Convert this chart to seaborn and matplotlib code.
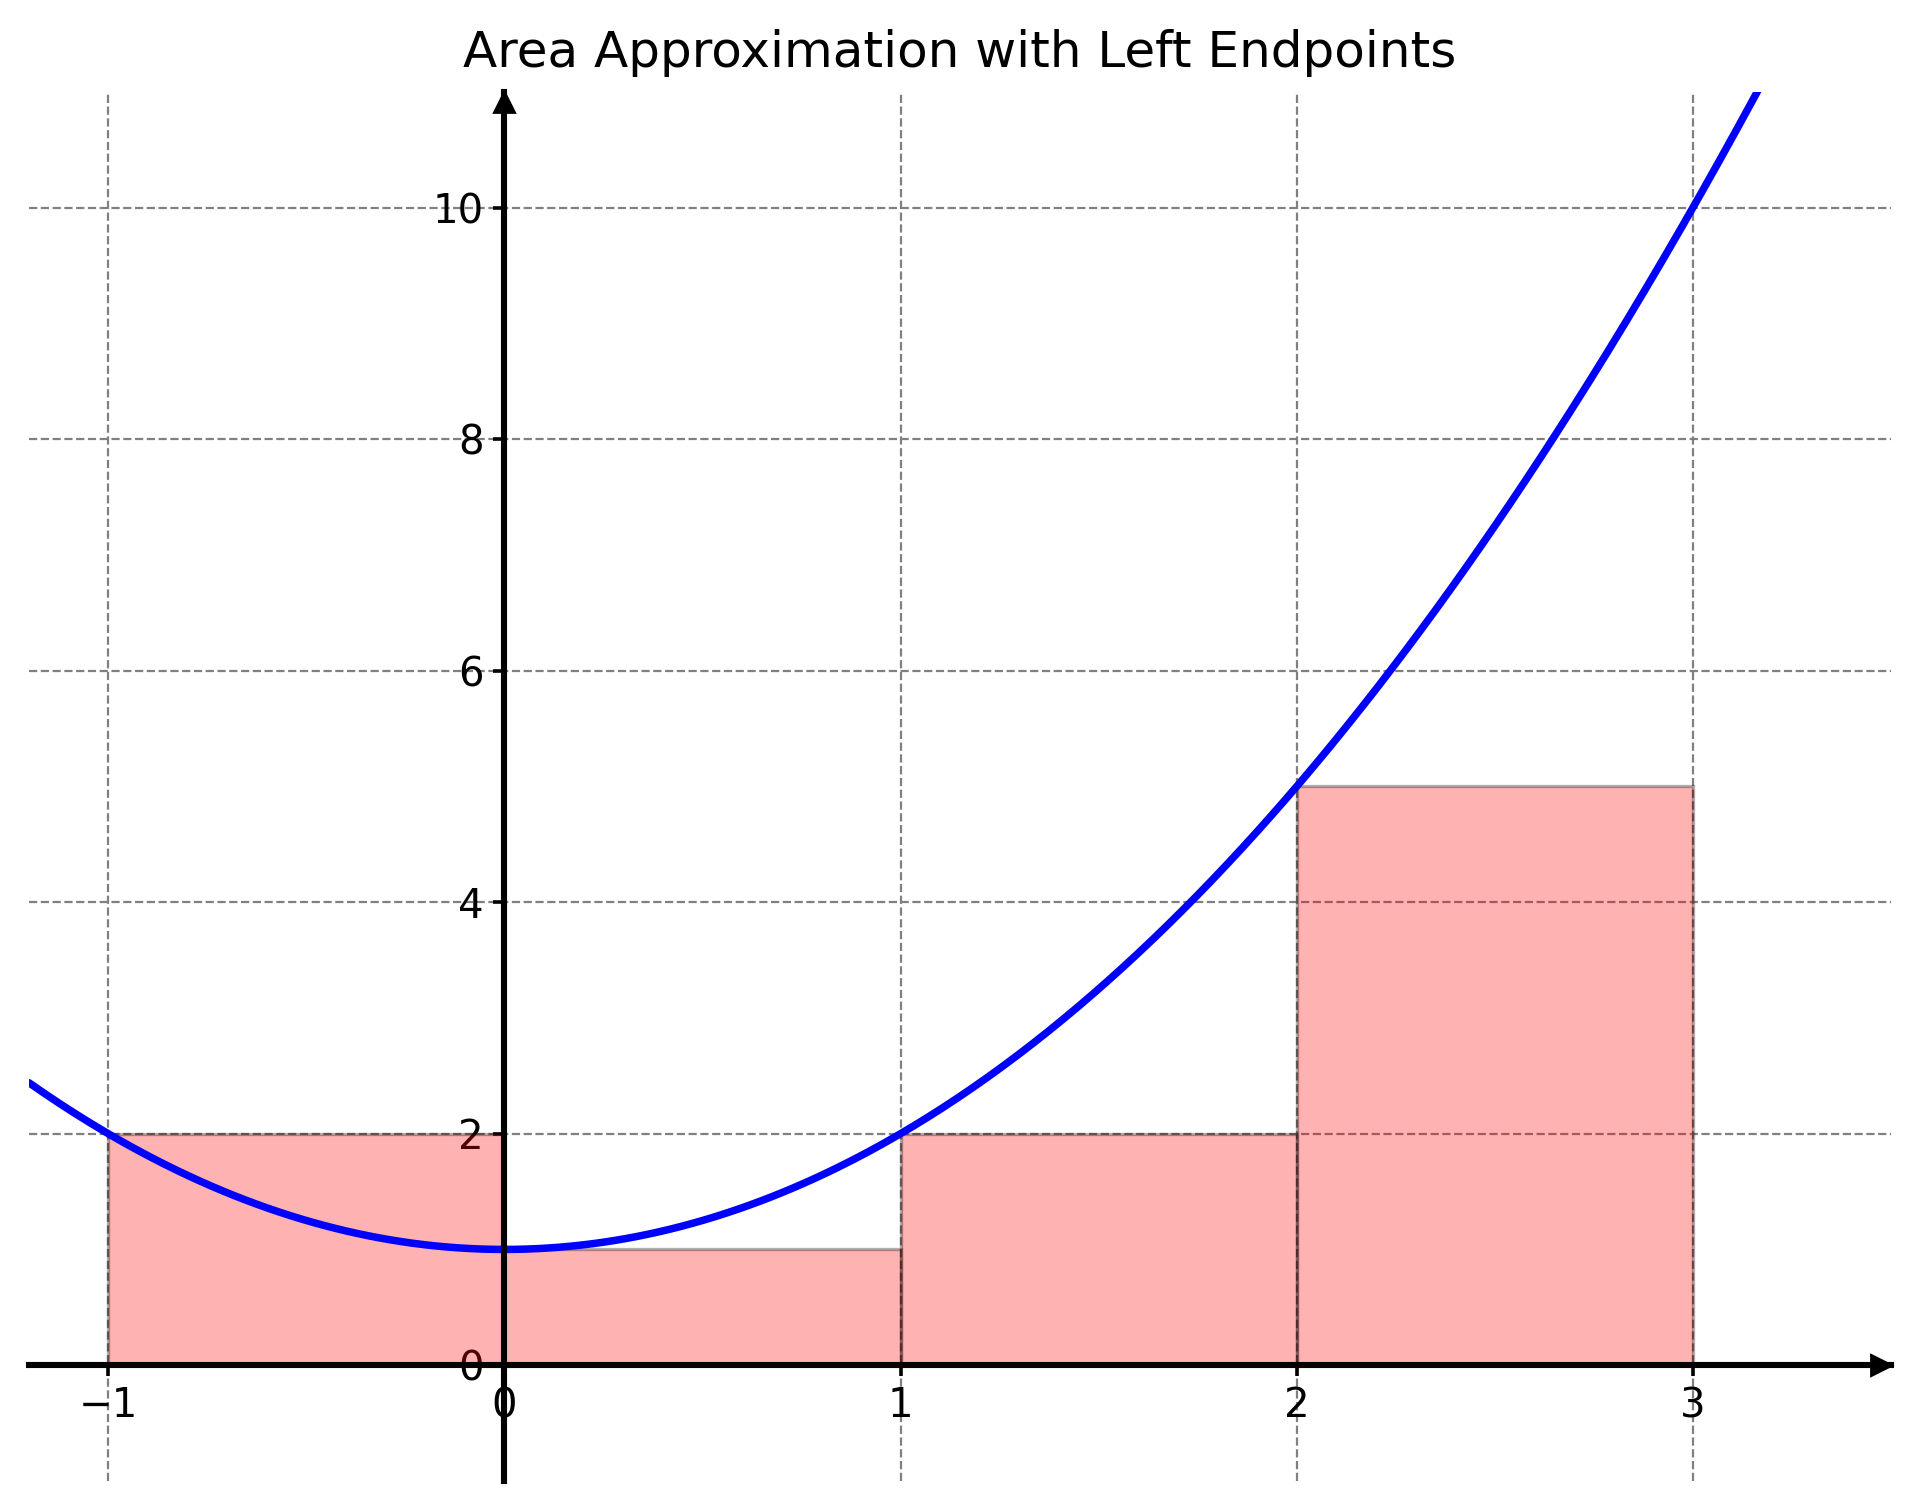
import numpy as np
import pandas as pd
import matplotlib
matplotlib.use("Agg")
import matplotlib.pyplot as plt
import matplotlib.transforms as mtransforms
import seaborn as sns

# f(x) = x^2 + 1 on [-1, 3], 4 left-endpoint rectangles
coef_a = 1.0
coef_c = 1.0
left_pts = [-1, 0, 1, 2]
heights = [2, 1, 2, 5]
rect_width = 1
x_ticks = [-1, 0, 1, 2, 3]
y_ticks = [0, 2, 4, 6, 8, 10]
x_range = (-1.2, 3.5)
y_range = (-1, 11)
title = "Area Approximation with Left Endpoints"

sns.set_style("ticks")
plt.rcParams['font.family'] = ['DejaVu Sans']
plt.rcParams['text.color'] = 'black'
plt.rcParams['xtick.color'] = 'black'
plt.rcParams['ytick.color'] = 'black'
plt.rcParams['axes.edgecolor'] = 'black'

fig = plt.figure(figsize=(9.595, 7.545), dpi=200)
ax = fig.add_axes([0.0151, 0.0186, 0.9703, 0.9205])

xs = np.linspace(x_range[0], x_range[1], 500)
curve = pd.DataFrame({"x": xs, "y": coef_a * xs ** 2 + coef_c})

ax.grid(True, linestyle="--", color="gray", linewidth=0.8)
ax.set_axisbelow(True)

ax.bar(left_pts, heights, width=rect_width, align="edge",
       color="red", alpha=0.3, edgecolor="black", linewidth=1.2, zorder=2)
sns.lineplot(data=curve, x="x", y="y", color="blue", linewidth=2.7, ax=ax, zorder=3)

ax.set_xlim(*x_range)
ax.set_ylim(*y_range)
ax.set_xticks(x_ticks)
ax.set_yticks(y_ticks)
ax.set_xlabel("")
ax.set_ylabel("")
ax.tick_params(labelsize=14.5, width=1.3, length=4, colors="black")

ax.spines["left"].set_position(("data", 0))
ax.spines["bottom"].set_position(("data", 0))
ax.spines["right"].set_visible(False)
ax.spines["top"].set_visible(False)
for s in ["left", "bottom"]:
    ax.spines[s].set_linewidth(2.2)
    ax.spines[s].set_color("black")
    ax.spines[s].set_zorder(4)

ms = 7
tr_x = mtransforms.offset_copy(ax.get_yaxis_transform(), fig=fig, x=-ms / 2, units="points")
tr_y = mtransforms.offset_copy(ax.get_xaxis_transform(), fig=fig, y=-ms / 2, units="points")
ax.plot(1, 0, ">k", markersize=ms, transform=tr_x, clip_on=False, zorder=5)
ax.plot(0, 1, "^k", markersize=ms, transform=tr_y, clip_on=False, zorder=5)

ax.set_title(title, fontsize=18, pad=9, color="black")

fig.savefig("out.png", dpi=200)
